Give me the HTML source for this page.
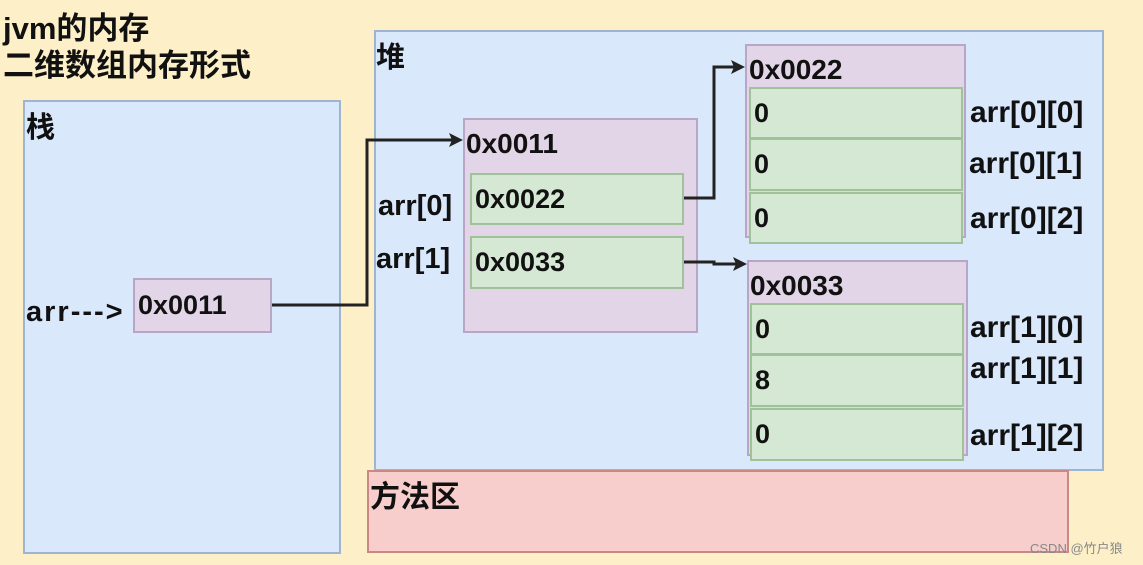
<!DOCTYPE html>
<html><head><meta charset="utf-8"><style>
body{margin:0;width:1143px;height:565px;background:#fdf0c8;position:relative;overflow:hidden;font-family:"Liberation Sans","Noto Sans CJK SC",sans-serif;font-weight:bold;color:#111}
.b{position:absolute;box-sizing:border-box}
.blue{background:#dae8fc;border:2px solid #9fb4cf}
.pur{background:#e1d5e7;border:2px solid #b9a6c6}
.grn{background:#d5e8d4;border:2px solid #9fc29a}
.red{background:#f8cecc;border:2px solid #c98884}
.t{position:absolute;font-size:29px;white-space:nowrap;line-height:1}
.c{font-size:27px;padding-left:3px;display:flex;align-items:center}
</style></head><body>
<div class="t" style="left:3px;top:13px;font-size:31px">jvm的内存</div>
<div class="t" style="left:3px;top:50px;font-size:31px">二维数组内存形式</div>
<div class="b blue" style="left:23px;top:100px;width:318px;height:454px"></div>
<div class="t" style="left:26px;top:114px;font-size:29px">栈</div>
<div class="t" style="left:26px;top:298px;letter-spacing:2px">arr---&gt;</div>
<div class="b pur c" style="left:133px;top:278px;width:139px;height:55px">0x0011</div>
<div class="b blue" style="left:374px;top:30px;width:730px;height:441px"></div>
<div class="t" style="left:376px;top:44px;font-size:29px">堆</div>
<div class="b red" style="left:367px;top:470px;width:702px;height:83px"></div>
<div class="t" style="left:370px;top:483px;font-size:30px">方法区</div>
<div class="b pur" style="left:463px;top:118px;width:235px;height:215px"></div>
<div class="t" style="left:466px;top:130px;font-size:28px">0x0011</div>
<div class="b grn c" style="left:470px;top:173px;width:214px;height:52px">0x0022</div>
<div class="b grn c" style="left:470px;top:236px;width:214px;height:53px">0x0033</div>
<div class="t" style="left:378px;top:192px">arr[0]</div>
<div class="t" style="left:376px;top:245px">arr[1]</div>
<div class="b pur" style="left:745px;top:44px;width:221px;height:194px"></div>
<div class="t" style="left:749px;top:56px;font-size:28px">0x0022</div>
<div class="b grn c" style="left:749px;top:87px;width:214px;height:52px">0</div>
<div class="b grn c" style="left:749px;top:138px;width:214px;height:53px">0</div>
<div class="b grn c" style="left:749px;top:192px;width:214px;height:52px">0</div>
<div class="t" style="left:970px;top:98px;font-size:30px">arr[0][0]</div>
<div class="t" style="left:969px;top:149px;font-size:30px">arr[0][1]</div>
<div class="t" style="left:970px;top:204px;font-size:30px">arr[0][2]</div>
<div class="b pur" style="left:747px;top:260px;width:221px;height:196px"></div>
<div class="t" style="left:750px;top:272px;font-size:28px">0x0033</div>
<div class="b grn c" style="left:750px;top:303px;width:214px;height:52px">0</div>
<div class="b grn c" style="left:750px;top:354px;width:214px;height:53px">8</div>
<div class="b grn c" style="left:750px;top:408px;width:214px;height:53px">0</div>
<div class="t" style="left:970px;top:313px;font-size:30px">arr[1][0]</div>
<div class="t" style="left:970px;top:354px;font-size:30px">arr[1][1]</div>
<div class="t" style="left:970px;top:421px;font-size:30px">arr[1][2]</div>
<svg class="b" style="left:0;top:0" width="1143" height="565">
<g fill="none" stroke="#222" stroke-width="3">
<polyline points="272,305 367,305 367,140 452,140"/>
<polyline points="684,198 714,198 714,67 734,67"/>
<polyline points="684,262 714,262 714,264 736,264"/>
</g>
<g fill="#222">
<polygon points="463,140 449,133 452,140 449,147"/>
<polygon points="745,67 731,60 734,67 731,74"/>
<polygon points="747,264 733,257 736,264 733,271"/>
</g>
</svg>
<div class="t" style="left:1030px;top:542px;font-size:13px;font-weight:normal;color:#888">CSDN @竹户狼</div>
</body></html>
